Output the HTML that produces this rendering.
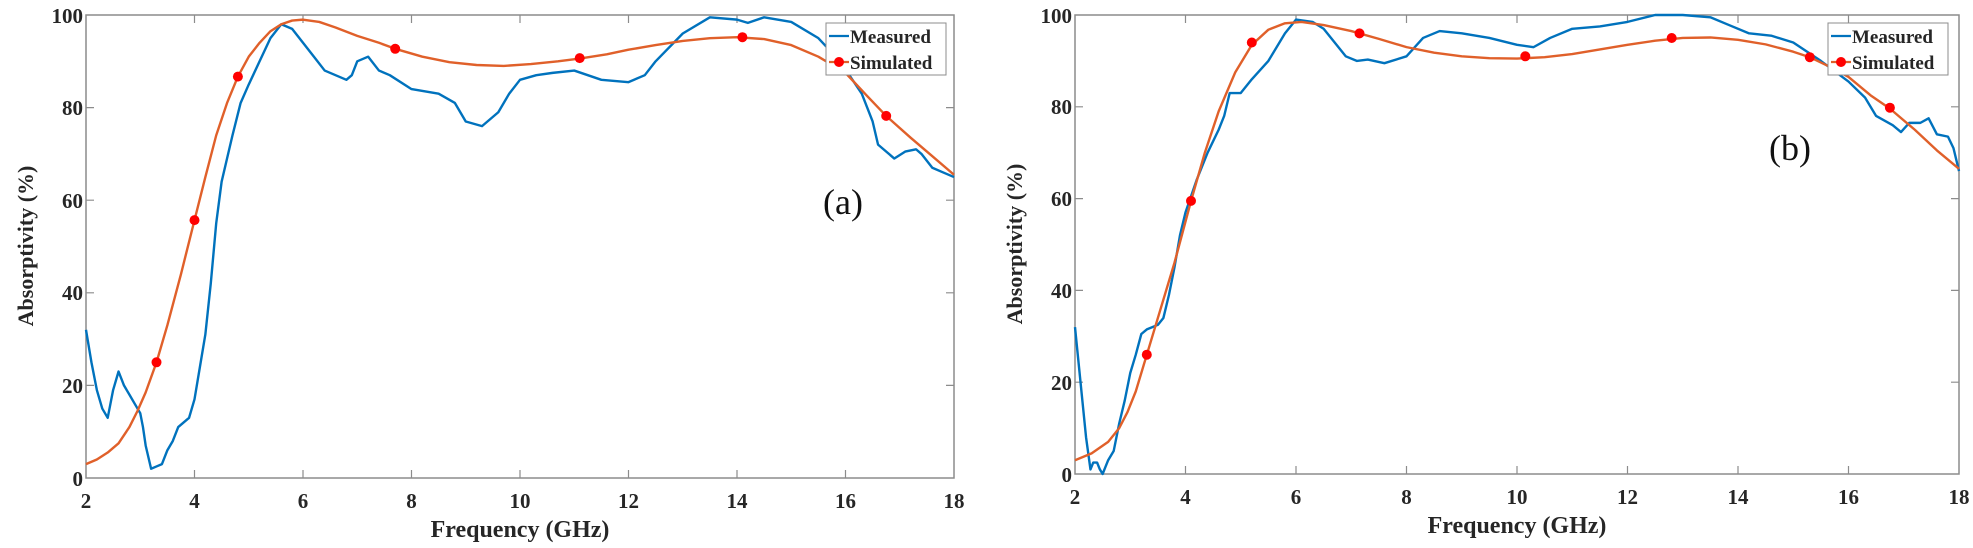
<!DOCTYPE html>
<html><head><meta charset="utf-8"><style>
html,body{margin:0;padding:0;background:#fff;}
svg{display:block;}
text{font-family:"Liberation Serif",serif;font-weight:bold;fill:#262626;}
</style></head><body>
<svg width="1973" height="548" viewBox="0 0 1973 548" xmlns="http://www.w3.org/2000/svg">
<!-- LEFT PLOT -->
<g>
<rect x="86" y="15" width="868" height="463" fill="none" stroke="#8c8c8c" stroke-width="1.5"/>
<g stroke="#8c8c8c" stroke-width="1.2">
<path d="M194.5,478v-8M303,478v-8M411.5,478v-8M520,478v-8M628.5,478v-8M737,478v-8M845.5,478v-8
M194.5,15v8M303,15v8M411.5,15v8M520,15v8M628.5,15v8M737,15v8M845.5,15v8
M86,385.4h8M86,292.8h8M86,200.2h8M86,107.6h8M954,385.4h-8M954,292.8h-8M954,200.2h-8M954,107.6h-8"/>
</g>
<g font-size="21" text-anchor="middle">
<text x="86" y="508">2</text><text x="194.5" y="508">4</text><text x="303" y="508">6</text><text x="411.5" y="508">8</text><text x="520" y="508">10</text><text x="628.5" y="508">12</text><text x="737" y="508">14</text><text x="845.5" y="508">16</text><text x="954" y="508">18</text>
</g>
<g font-size="21" text-anchor="end">
<text x="83" y="486">0</text><text x="83" y="393">20</text><text x="83" y="300">40</text><text x="83" y="208">60</text><text x="83" y="115">80</text><text x="83" y="23">100</text>
</g>
<text x="520" y="537" font-size="24" text-anchor="middle">Frequency (GHz)</text>
<text transform="translate(33,246) rotate(-90)" font-size="22" text-anchor="middle">Absorptivity (%)</text>
<g transform="translate(86,478) scale(54.25,-4.63) translate(-2,0)" fill="none" stroke-linejoin="round">
<polyline vector-effect="non-scaling-stroke" stroke="#0072bd" stroke-width="2.4" points="2,32 2.1,25 2.2,19 2.3,15 2.4,13 2.45,16 2.5,19 2.6,23 2.7,20 2.8,18 2.9,16 3.0,14 3.05,11 3.1,7 3.2,2 3.3,2.5 3.4,3 3.5,6 3.6,8 3.7,11 3.8,12 3.9,13 4.0,17 4.1,24 4.2,31 4.3,42 4.4,55 4.5,64 4.6,69 4.7,74 4.85,81 5.0,85 5.2,90 5.4,95 5.6,98 5.8,97 6.0,94 6.2,91 6.4,88 6.6,87 6.8,86 6.9,87 7.0,90 7.2,91 7.4,88 7.6,87 8.0,84 8.5,83 8.8,81 9.0,77 9.3,76 9.6,79 9.8,83 10.0,86 10.3,87 10.6,87.5 11.0,88 11.5,86 12.0,85.5 12.3,87 12.5,90 13.0,96 13.5,99.5 14.0,99 14.2,98.3 14.5,99.5 15.0,98.5 15.5,95 15.9,90 16.3,83 16.5,77 16.6,72 16.9,69 17.1,70.5 17.3,71 17.4,70 17.6,67 17.8,66 18.0,65"/>
<polyline vector-effect="non-scaling-stroke" stroke="#e0602a" stroke-width="2.4" points="2,3 2.2,4 2.4,5.5 2.6,7.5 2.8,11 2.95,14.5 3.1,18.5 3.3,25 3.5,33 3.75,44 4,55.7 4.2,65 4.4,74 4.6,81 4.8,86.7 5.0,91 5.2,94 5.4,96.5 5.6,98 5.8,98.8 6,99 6.3,98.5 6.6,97.3 7,95.5 7.4,94 7.7,92.7 8.2,91 8.7,89.8 9.2,89.2 9.7,89 10.2,89.4 10.7,90 11.1,90.6 11.6,91.5 12,92.5 12.5,93.5 13,94.4 13.5,95 14,95.2 14.5,94.8 15,93.5 15.5,91 16,87.5 16.4,82.5 16.75,78.2 17.2,73.5 17.6,69.5 18,65.5"/>
</g>
<g fill="#ff0000">
<circle cx="156.5" cy="362.3" r="5"/><circle cx="194.5" cy="220.1" r="5"/><circle cx="237.9" cy="76.6" r="5"/><circle cx="395.2" cy="48.8" r="5"/><circle cx="579.7" cy="58.1" r="5"/><circle cx="742.4" cy="37.2" r="5"/><circle cx="886.2" cy="115.9" r="5"/>
</g>
<text x="843" y="214" font-size="36" text-anchor="middle" style="font-weight:normal;fill:#111">(a)</text>
<rect x="826" y="23" width="120" height="52" fill="#fff" stroke="#8c8c8c" stroke-width="1"/>
<line x1="829" y1="36" x2="849" y2="36" stroke="#0072bd" stroke-width="2.2"/>
<line x1="829" y1="62" x2="849" y2="62" stroke="#e0602a" stroke-width="2.2"/>
<circle cx="839" cy="62" r="5" fill="#ff0000"/>
<text x="850" y="43" font-size="19">Measured</text>
<text x="850" y="69" font-size="19">Simulated</text>
</g>

<!-- RIGHT PLOT -->
<g>
<rect x="1075" y="15" width="884" height="459" fill="none" stroke="#8c8c8c" stroke-width="1.5"/>
<g stroke="#8c8c8c" stroke-width="1.2">
<path d="M1185.5,474v-8M1296,474v-8M1406.5,474v-8M1517,474v-8M1627.5,474v-8M1738,474v-8M1848.5,474v-8
M1185.5,15v8M1296,15v8M1406.5,15v8M1517,15v8M1627.5,15v8M1738,15v8M1848.5,15v8
M1075,382.2h8M1075,290.4h8M1075,198.6h8M1075,106.8h8M1959,382.2h-8M1959,290.4h-8M1959,198.6h-8M1959,106.8h-8"/>
</g>
<g font-size="21" text-anchor="middle">
<text x="1075" y="504">2</text><text x="1185.5" y="504">4</text><text x="1296" y="504">6</text><text x="1406.5" y="504">8</text><text x="1517" y="504">10</text><text x="1627.5" y="504">12</text><text x="1738" y="504">14</text><text x="1848.5" y="504">16</text><text x="1959" y="504">18</text>
</g>
<g font-size="21" text-anchor="end">
<text x="1072" y="482">0</text><text x="1072" y="390">20</text><text x="1072" y="298">40</text><text x="1072" y="206">60</text><text x="1072" y="114">80</text><text x="1072" y="23">100</text>
</g>
<text x="1517" y="533" font-size="24" text-anchor="middle">Frequency (GHz)</text>
<text transform="translate(1022,244) rotate(-90)" font-size="22" text-anchor="middle">Absorptivity (%)</text>
<g transform="translate(1075,474) scale(55.25,-4.59) translate(-2,0)" fill="none" stroke-linejoin="round">
<polyline vector-effect="non-scaling-stroke" stroke="#0072bd" stroke-width="2.4" points="2,32 2.1,20 2.2,8 2.28,1 2.33,2.5 2.4,2.5 2.45,1 2.5,0 2.55,1.5 2.6,3 2.7,5 2.8,11 2.9,16 3.0,22 3.1,26 3.2,30.5 3.3,31.5 3.4,32 3.5,32.5 3.6,34 3.7,39 3.8,45 3.9,52 4.0,57 4.2,64 4.4,70 4.6,75 4.7,78 4.8,83 5.0,83 5.2,86 5.5,90 5.8,96 6.0,99 6.3,98.5 6.5,97 6.7,94 6.9,91 7.1,90 7.3,90.3 7.6,89.5 8,91 8.3,95 8.6,96.5 9.0,96 9.5,95 10.0,93.5 10.3,93 10.6,95 11.0,97 11.5,97.5 12,98.5 12.5,100 13.0,100 13.5,99.5 13.8,98 14.2,96 14.6,95.5 15.0,94 15.5,90 16.0,85.5 16.3,82 16.5,78 16.8,76 16.95,74.5 17.1,76.5 17.3,76.5 17.45,77.5 17.6,74 17.8,73.5 17.9,71 18,66"/>
<polyline vector-effect="non-scaling-stroke" stroke="#e0602a" stroke-width="2.4" points="2,3 2.3,4.5 2.6,7 2.8,10 2.95,13.5 3.1,18 3.3,26 3.5,34 3.8,46 4.1,59.5 4.35,70 4.6,79 4.9,87.5 5.2,93.5 5.5,96.8 5.8,98.2 6.1,98.5 6.5,97.8 7,96.5 7.5,94.8 8,93 8.5,91.8 9,91 9.5,90.6 10,90.5 10.5,90.8 11,91.5 11.5,92.5 12,93.5 12.5,94.4 13,95 13.5,95.1 14,94.6 14.5,93.6 15,92 15.3,90.8 15.7,88.5 16,86.5 16.4,82.5 16.75,79.6 17.2,75 17.6,70.5 18,66.5"/>
</g>
<g fill="#ff0000">
<circle cx="1146.8" cy="354.7" r="5"/><circle cx="1191" cy="200.9" r="5"/><circle cx="1251.8" cy="42.5" r="5"/><circle cx="1359.5" cy="33.4" r="5"/><circle cx="1525.3" cy="56.3" r="5"/><circle cx="1671.7" cy="38" r="5"/><circle cx="1809.8" cy="57.2" r="5"/><circle cx="1889.9" cy="107.7" r="5"/>
</g>
<text x="1790" y="160" font-size="36" text-anchor="middle" style="font-weight:normal;fill:#111">(b)</text>
<rect x="1828" y="23" width="120" height="52" fill="#fff" stroke="#8c8c8c" stroke-width="1"/>
<line x1="1831" y1="36" x2="1851" y2="36" stroke="#0072bd" stroke-width="2.2"/>
<line x1="1831" y1="62" x2="1851" y2="62" stroke="#e0602a" stroke-width="2.2"/>
<circle cx="1841" cy="62" r="5" fill="#ff0000"/>
<text x="1852" y="43" font-size="19">Measured</text>
<text x="1852" y="69" font-size="19">Simulated</text>
</g>
</svg>
</body></html>
